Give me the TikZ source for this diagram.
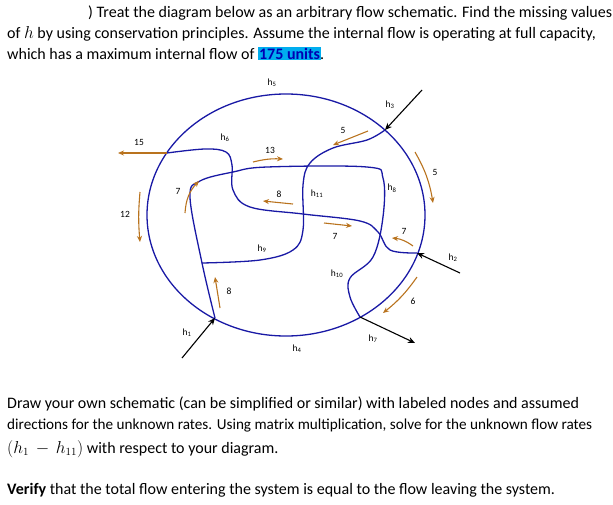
\documentclass[tikz,border=0pt]{standalone}
\usepackage{fontspec}
\setmainfont{Carlito}
\usetikzlibrary{arrows.meta}
\begin{document}
\begin{tikzpicture}[x=1pt,y=-1pt,
  pipe/.style={draw={rgb,255:red,25;green,25;blue,165},line width=1.3pt},
  ext/.style={draw=black,line width=1.1pt,-{Stealth[length=7pt,width=6pt]}},
  flow/.style={draw={rgb,255:red,185;green,115;blue,30},line width=1.1pt,-{Stealth[length=6pt,width=5pt]}},
  lab/.style={font=\fontsize{9.5}{10}\selectfont},
  txt/.style={anchor=base west,inner sep=0pt,font=\fontsize{16}{18}\selectfont}]
\useasboundingbox (0,0) rectangle (613,504);
% text
\setlength{\fboxsep}{1pt}
\node[txt] (t1) at (88,17) {) Treat the diagram below as an arbitrary flow schematic. Find the missing values};
\node[txt] (t2) at (7,38) {of $h$ by using conservation principles. Assume the internal flow is operating at full capacity,};
\node[txt] (t3) at (7,59) {which has a maximum internal flow of \colorbox{cyan}{\textcolor{blue!70!black}{\textbf{175 units}}}\hspace{-1pt}.};
\node[txt] (b1) at (7,408) {Draw your own schematic (can be simplified or similar) with labeled nodes and assumed};
\node[txt,font=\fontsize{15.2}{18}\selectfont] (b2) at (7,429) {directions for the unknown rates. Using matrix multiplication, solve for the unknown flow rates};
\node[txt] (b3) at (7,453) {$(h_1\,-\,h_{11})$ with respect to your diagram.};
\node[txt] (b4) at (7,494) {\textbf{Verify} that the total flow entering the system is equal to the flow leaving the system.};
% circle
\draw[pipe] (286,215) ellipse [x radius=139, y radius=121];
% internal pipes
\coordinate (p15) at (167,153);
\coordinate (p2) at (417,253);
\coordinate (p3) at (385,130);
\coordinate (p1) at (215,318);
\coordinate (p7) at (360,317);
\draw[pipe] plot[smooth,tension=0.6] coordinates {(p15) (205,149) (226,152) (232,165) (233,190) (250,207) (303,214) (360,221) (378,232) (390,250) (p2)};
\draw[pipe] plot[smooth,tension=0.6] coordinates {(p3) (367,140) (333,148) (310,163) (303,185) (303,230) (293,250) (260,260) (202,263)};
\draw[pipe] plot[smooth,tension=0.6] coordinates {(p1) (202,263) (190,197) (200,181) (233,172) (267,167) (367,167) (383,178) (383,217) (373,257) (350,278) (350,297) (p7)};
% external arrows
\coordinate (e3) at (422,90);
\coordinate (e2) at (460,273);
\coordinate (e7) at (415,343);
\coordinate (e1) at (182,358);
\coordinate (e15) at (118,153);
\draw[ext] (e3) -- (p3);
\draw[ext] (e2) -- (p2);
\draw[ext] (p7) -- (e7);
\draw[ext] (e1) -- (p1);
\draw[flow] (p15) -- (e15);
% flow arrows
\draw[flow] (368,131) -- (333,145);
\draw[flow] (253,162) to[bend left=8] (283,159);
\draw[flow] (293,204) -- (263,201);
\draw[flow] (324,223) -- (352,226);
\draw[flow] (413,246) to[bend right=15] (392,238);
\draw[flow] (415,152) to[bend left=10] (433,203);
\draw[flow] (417,277) to[bend left=8] (383,313);
\draw[flow] (220,308) -- (215,277);
\draw[flow] (185,213) to[bend left=20] (199,181);
\draw[flow] (140,192) to[bend right=5] (140,242);
% numbers
\node[lab] (n15) at (139,142) {15};
\node[lab] (n5a) at (343,130) {5};
\node[lab] (n13) at (270,150) {13};
\node[lab] (n8a) at (279,194) {8};
\node[lab] (n7a) at (335,236) {7};
\node[lab] (n7b) at (404,231) {7};
\node[lab] (n5b) at (435,172) {5};
\node[lab] (n6) at (413,301) {6};
\node[lab] (n8b) at (229,291) {8};
\node[lab] (n7c) at (178,191) {7};
\node[lab] (n12) at (125,214) {12};
% h labels
\node[lab] (h5) at (272,83) {h\textsubscript{5}};
\node[lab] (h3) at (390,105) {h\textsubscript{3}};
\node[lab] (h6) at (225,138) {h\textsubscript{6}};
\node[lab] (h11) at (317,194) {h\textsubscript{11}};
\node[lab] (h8) at (392,188) {h\textsubscript{8}};
\node[lab] (h9) at (262,249) {h\textsubscript{9}};
\node[lab] (h10) at (337,274) {h\textsubscript{10}};
\node[lab] (h2) at (453,258) {h\textsubscript{2}};
\node[lab] (h1) at (187,333) {h\textsubscript{1}};
\node[lab] (h7) at (373,339) {h\textsubscript{7}};
\node[lab] (h4) at (297,349) {h\textsubscript{4}};
\end{tikzpicture}
\end{document}
